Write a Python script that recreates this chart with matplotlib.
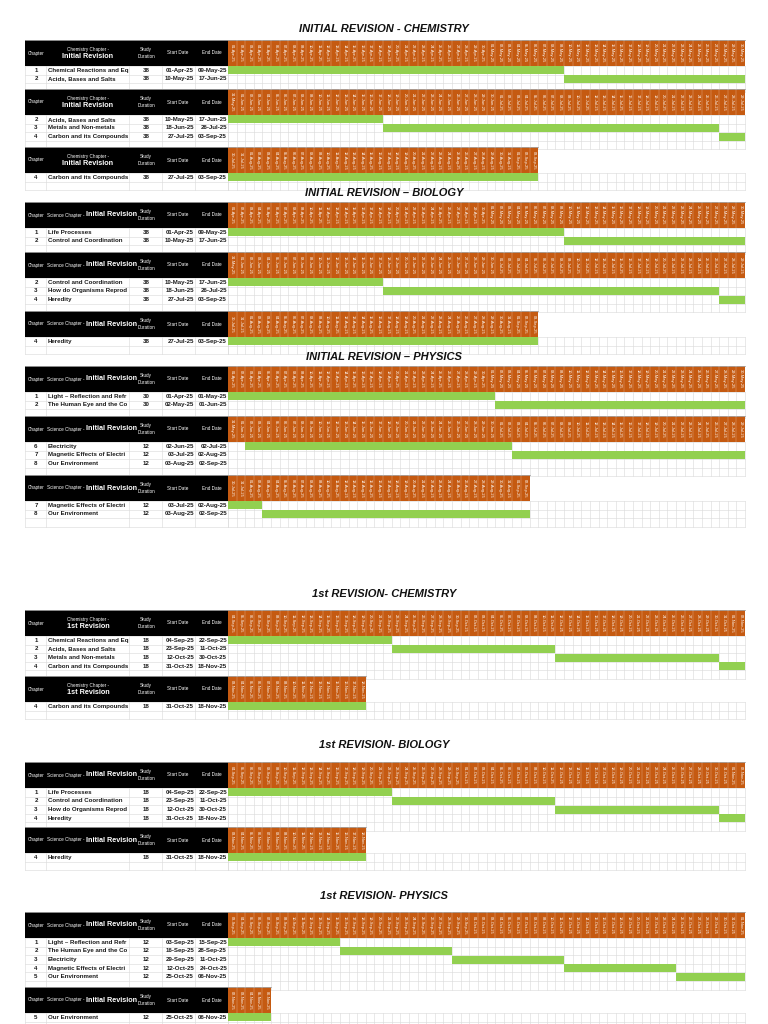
import matplotlib
matplotlib.use('Agg')
import matplotlib.pyplot as plt
from matplotlib.patches import Rectangle
from datetime import datetime, timedelta

# ---------------- DATA ----------------
chem_init_no = [1, 2, 3, 4]
chem_init_names = ["Chemical Reactions and Equations", "Acids, Bases and Salts",
                   "Metals and Non-metals", "Carbon and its Compounds"]
chem_init_days = [38, 38, 38, 38]
chem_init_start = ["01-Apr-25", "10-May-25", "18-Jun-25", "27-Jul-25"]
chem_init_end = ["09-May-25", "17-Jun-25", "26-Jul-25", "03-Sep-25"]

bio_init_no = [1, 2, 3, 4]
bio_init_names = ["Life Processes", "Control and Coordination",
                  "How do Organisms Reproduce?", "Heredity"]
bio_init_days = [38, 38, 38, 38]
bio_init_start = ["01-Apr-25", "10-May-25", "18-Jun-25", "27-Jul-25"]
bio_init_end = ["09-May-25", "17-Jun-25", "26-Jul-25", "03-Sep-25"]

phy_init_no = [1, 2, 6, 7, 8]
phy_init_names = ["Light \u2013 Reflection and Refraction", "The Human Eye and the Colourful World",
                  "Electricity", "Magnetic Effects of Electric Current", "Our Environment"]
phy_init_days = [30, 30, 12, 12, 12]
phy_init_start = ["01-Apr-25", "02-May-25", "02-Jun-25", "03-Jul-25", "03-Aug-25"]
phy_init_end = ["01-May-25", "01-Jun-25", "02-Jul-25", "02-Aug-25", "02-Sep-25"]

chem_rev1_no = [1, 2, 3, 4]
chem_rev1_names = chem_init_names
chem_rev1_days = [18, 18, 18, 18]
chem_rev1_start = ["04-Sep-25", "23-Sep-25", "12-Oct-25", "31-Oct-25"]
chem_rev1_end = ["22-Sep-25", "11-Oct-25", "30-Oct-25", "18-Nov-25"]

bio_rev1_no = [1, 2, 3, 4]
bio_rev1_names = bio_init_names
bio_rev1_days = [18, 18, 18, 18]
bio_rev1_start = ["04-Sep-25", "23-Sep-25", "12-Oct-25", "31-Oct-25"]
bio_rev1_end = ["22-Sep-25", "11-Oct-25", "30-Oct-25", "18-Nov-25"]

phy_rev1_no = [1, 2, 3, 4, 5]
phy_rev1_names = ["Light \u2013 Reflection and Refraction", "The Human Eye and the Colourful World",
                  "Electricity", "Magnetic Effects of Electric Current", "Our Environment"]
phy_rev1_days = [12, 12, 12, 12, 12]
phy_rev1_start = ["03-Sep-25", "16-Sep-25", "29-Sep-25", "12-Oct-25", "25-Oct-25"]
phy_rev1_end = ["15-Sep-25", "28-Sep-25", "11-Oct-25", "24-Oct-25", "06-Nov-25"]

section_titles = ["INITIAL REVISION - CHEMISTRY", "INITIAL REVISION \u2013 BIOLOGY",
                  "INITIAL REVISION \u2013 PHYSICS", "1st REVISION- CHEMISTRY",
                  "1st REVISION- BIOLOGY", "1st REVISION- PHYSICS"]

# timeline windows (first date shown, number of day columns, chapter rows shown)
chem_init_windows = [("01-Apr-25", 60, [0, 1]), ("31-May-25", 60, [1, 2, 3]), ("30-Jul-25", 36, [3])]
bio_init_windows = [("01-Apr-25", 60, [0, 1]), ("31-May-25", 60, [1, 2, 3]), ("30-Jul-25", 36, [3])]
phy_init_windows = [("01-Apr-25", 60, [0, 1]), ("31-May-25", 60, [2, 3, 4]), ("30-Jul-25", 35, [3, 4])]
chem_rev1_windows = [("04-Sep-25", 60, [0, 1, 2, 3]), ("03-Nov-25", 16, [3])]
bio_rev1_windows = [("04-Sep-25", 60, [0, 1, 2, 3]), ("03-Nov-25", 16, [3])]
phy_rev1_windows = [("03-Sep-25", 60, [0, 1, 2, 3, 4]), ("02-Nov-25", 5, [4])]

# ---------------- STYLE / LAYOUT ----------------
ORANGE = "#C55A11"
GREEN = "#92D050"
GRID = "#D9D9D9"
FONT = "Liberation Sans"
X0, GX0, GX1 = 25, 228, 745
NCOL = 60
COLW = (GX1 - GX0) / NCOL
HEAD_H = 26
ROW_H = 8.6
COL_SEP = [25, 46, 129, 162, 195, 228]
NAME_X, NAME_MAXW = 48, 80.5

title_y = [29, 193, 357, 594, 745, 896]
block_tops = [[40, 89, 147], [202, 252, 311], [366, 416, 475],
              [610, 676], [762, 827], [912, 987]]

fig = plt.figure(figsize=(7.68, 10.24), dpi=100)
ax = fig.add_axes([0, 0, 1, 1])
ax.set_xlim(0, 768)
ax.set_ylim(1024, 0)
ax.axis('off')
renderer = fig.canvas.get_renderer()


def d(s):
    return datetime.strptime(s, "%d-%b-%y")


def fit_text(t):
    # the spreadsheet cell cuts long chapter names at the column edge
    s = t.get_text()
    while len(s) > 1 and t.get_window_extent(renderer).width > NAME_MAXW:
        s = s[:-1]
        t.set_text(s)


def draw_header_left(top, kind, label):
    ax.add_patch(Rectangle((X0, top), GX0 - X0, HEAD_H, color="black", lw=0, zorder=2))
    ym = top + HEAD_H / 2
    kw = dict(color="white", family=FONT, zorder=3, va="center")
    ax.text(36, ym, "Chapter", ha="center", fontsize=3.3, **kw)
    if kind == "chem":
        ax.text(88, ym - 3.5, "Chemistry Chapter -", ha="center", fontsize=3.3, **kw)
        ax.text(88, ym + 3.5, label, ha="center", fontsize=5.2, fontweight="bold", **kw)
    else:
        ax.text(86, ym, "Science Chapter - ", ha="right", fontsize=3.3, **kw)
        ax.text(86, ym, label, ha="left", fontsize=5.2, fontweight="bold", **kw)
    ax.text(146, ym, "Study\nDuration", ha="center", fontsize=3.3, linespacing=1.6, **kw)
    ax.text(178, ym, "Start Date", ha="center", fontsize=3.3, **kw)
    ax.text(212, ym, "End Date", ha="center", fontsize=3.3, **kw)


def draw_block(top, kind, label, window, no, names, days, starts, ends):
    wstart, ncols, rows = window
    w0 = d(wstart)
    draw_header_left(top, kind, label)
    ax.add_patch(Rectangle((GX0, top), ncols * COLW, HEAD_H, color=ORANGE, lw=0, zorder=2))
    ax.plot([X0, GX0 + ncols * COLW], [top, top], color="#A6A6A6", lw=0.6, zorder=3)
    for i in range(ncols):
        xc = GX0 + (i + 0.5) * COLW
        ax.text(xc, top + HEAD_H / 2, (w0 + timedelta(days=i)).strftime("%d-%b-%y"),
                rotation=270, ha="center", va="center", color="white", fontsize=2.9,
                family=FONT, zorder=3)
        if i > 0:
            ax.plot([GX0 + i * COLW] * 2, [top, top + HEAD_H], color="white",
                    lw=0.3, alpha=0.5, zorder=3)
    ybody = top + HEAD_H
    nr = len(rows) + 1
    for k in range(nr + 1):
        ax.plot([X0, GX1], [ybody + k * ROW_H] * 2, color=GRID, lw=0.4, zorder=1)
    for x in COL_SEP + [GX0 + i * COLW for i in range(NCOL + 1)]:
        ax.plot([x, x], [ybody, ybody + nr * ROW_H], color=GRID, lw=0.4, zorder=1)
    for k, r in enumerate(rows):
        yc = ybody + (k + 0.5) * ROW_H
        kw = dict(va="center", fontsize=4.4, fontweight="bold", family=FONT,
                  color="#1a1a1a", zorder=3)
        ax.text(36, yc, str(no[r]), ha="center", **kw)
        t = ax.text(NAME_X, yc, names[r], ha="left", **kw)
        fit_text(t)
        ax.text(146, yc, str(days[r]), ha="center", **kw)
        ax.text(194, yc, starts[r], ha="right", **kw)
        ax.text(227, yc, ends[r], ha="right", **kw)
        s = max(d(starts[r]), w0)
        e = min(d(ends[r]), w0 + timedelta(days=ncols - 1))
        if s <= e:
            x = GX0 + (s - w0).days * COLW
            w = ((e - s).days + 1) * COLW
            ax.add_patch(Rectangle((x, ybody + k * ROW_H + 0.3), w, ROW_H - 0.6,
                                   color=GREEN, lw=0, zorder=2))


sections = [
    ("chem", "Initial Revision", chem_init_windows, chem_init_no, chem_init_names,
     chem_init_days, chem_init_start, chem_init_end),
    ("sci", "Initial Revision", bio_init_windows, bio_init_no, bio_init_names,
     bio_init_days, bio_init_start, bio_init_end),
    ("sci", "Initial Revision", phy_init_windows, phy_init_no, phy_init_names,
     phy_init_days, phy_init_start, phy_init_end),
    ("chem", "1st Revision", chem_rev1_windows, chem_rev1_no, chem_rev1_names,
     chem_rev1_days, chem_rev1_start, chem_rev1_end),
    ("sci", "Initial Revision", bio_rev1_windows, bio_rev1_no, bio_rev1_names,
     bio_rev1_days, bio_rev1_start, bio_rev1_end),
    ("sci", "Initial Revision", phy_rev1_windows, phy_rev1_no, phy_rev1_names,
     phy_rev1_days, phy_rev1_start, phy_rev1_end),
]

for si, (kind, label, windows, no, names, days, starts, ends) in enumerate(sections):
    ax.text(384, title_y[si], section_titles[si], ha="center", va="center",
            fontsize=8, fontweight="bold", style="italic", family=FONT, color="#111111")
    for bi, win in enumerate(windows):
        draw_block(block_tops[si][bi], kind, label, win, no, names, days, starts, ends)

fig.savefig("out.png", dpi=100, facecolor="white")
